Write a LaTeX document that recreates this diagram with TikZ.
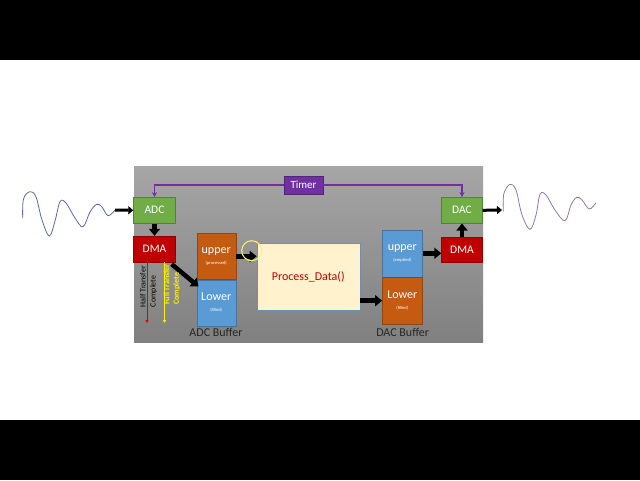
\documentclass[tikz,border=0pt]{standalone}
\usepackage{fontspec}
\setmainfont{Carlito}
\usepackage{xcolor}
\usetikzlibrary{arrows.meta,positioning,calc}

\definecolor{adcgreen}{HTML}{70AD47}
\definecolor{dmared}{HTML}{C00000}
\definecolor{buforange}{HTML}{C55A11}
\definecolor{bufblue}{HTML}{5B9BD5}
\definecolor{timerpurple}{HTML}{7030A0}
\definecolor{procfill}{HTML}{FFF2CC}
\definecolor{wavein}{HTML}{5A6AAA}
\definecolor{waveout}{HTML}{8A7AAE}

\begin{document}
\begin{tikzpicture}[x=1pt,y=-1pt,
		blk/.style = {draw=#1!75!black, fill=#1, text=white, inner sep=0pt, align=center},
		unit/.style = {minimum width=42pt, minimum height=26pt, font=\fontsize{11.5}{13}\selectfont},
		buf/.style = {minimum width=39pt, minimum height=46pt, font=\fontsize{12}{12}\selectfont},
		sub/.style = {font=\fontsize{4.5}{5}\selectfont},
		lbl/.style = {font=\fontsize{12}{14}\selectfont, text=black!85},
		fat/.style = {line width=4.5pt, -{Triangle[length=7pt,width=11pt]}},
		tline/.style = {draw=timerpurple, line width=1.4pt, -{Stealth[length=5pt,width=5pt]}},
		irq/.style = {line width=0.9pt, -{Triangle[length=3pt,width=3pt]}},
		note/.style = {rotate=90, align=left, inner sep=0pt, font=\fontsize{8}{10}\selectfont}
		]
		\useasboundingbox (0,0) rectangle (640,480);
		\fill[black] (0,0) rectangle (640,60);
		\fill[black] (0,420) rectangle (640,480);
		\shade[top color={rgb,255:red,166;green,166;blue,166}, bottom color={rgb,255:red,128;green,128;blue,128}]
		(134,166) rectangle (483,342);
		
		%input side
		\node (adc) [blk=adcgreen,unit] at (154.5,210.3) {ADC};
		\node (dma1) [blk=dmared,unit] at (154.5,249) {DMA};
		\node (timer) [blk=timerpurple,minimum width=39pt,minimum height=18pt,font=\fontsize{11}{13}\selectfont] at (303.5,185) {Timer};
		
		%adc buffer
		\node (adcup) [blk=buforange,buf] at (216.2,256.3) {upper\\[-1pt]{\fontsize{4.5}{5}\selectfont(processed)}};
		\node (adclow) [blk=bufblue,buf,below=0pt of adcup] {Lower\\[-1pt]{\fontsize{4.5}{5}\selectfont(filled)}};
		\node (adclbl) [lbl] at (216,332.5) {ADC Buffer};
		
		\node (proc) [draw=bufblue!60!gray,fill=procfill,minimum width=103pt,minimum height=67pt,
		text=dmared,font=\fontsize{12}{14}\selectfont] at (308.3,277) {Process\_Data()};
		
		%dac buffer
		\node (dacup) [blk=bufblue,buf,minimum width=40pt,minimum height=47pt] at (402.3,253.3) {upper\\[-1pt]{\fontsize{4.5}{5}\selectfont(emptied)}};
		\node (daclow) [blk=buforange,buf,minimum width=40pt,minimum height=47pt,below=0pt of dacup] {Lower\\[-1pt]{\fontsize{4.5}{5}\selectfont(filled)}};
		\node (daclbl) [lbl] at (402.7,332) {DAC Buffer};
		
		%output side
		\node (dma2) [blk=dmared,unit,minimum width=41pt,minimum height=25pt] at (462,250) {DMA};
		\node (dac) [blk=adcgreen,unit,minimum width=41pt] at (462,210.3) {DAC};
		
		\coordinate (winend) at (115,210);
		\coordinate (woutbeg) at (502,210);
		\coordinate (htend) at (147,323);
		\coordinate (ftend) at (164.5,323);
		
		%signals
		\draw[wavein, line width=0.8pt] plot[smooth, tension=0.6] coordinates {(22.7,218) (23.5,199) (30,191.7) (36,197) (42,220) (49.3,236) (55,221) (60,201.7) (66,203) (75,218) (83,226.7) (90,212) (96.7,204.3) (102,207) (108,215.7) (winend)};
		\draw[waveout, line width=0.8pt] plot[smooth, tension=0.6] coordinates {(503.3,211.7) (503.8,194) (510,184.3) (516,190) (522,215) (530,229.3) (536,215) (540,194.3) (546,195) (555,210) (565,220.7) (571,205) (576.7,197.3) (582,200) (589.3,209) (596,202.7)};
		
		\draw[tline] (timer.west) -| (adc.north);
		\draw[tline] (timer.east) -| (dac.north);
		
		\draw[line width=3pt, -{Triangle[length=5pt,width=8pt]}] (winend) -- (adc.west);
		\draw[line width=3pt, -{Triangle[length=5pt,width=8pt]}] (dac.east) -- (woutbeg);
		
		\draw[fat] (adc.south) -- (dma1.north);
		\draw[fat] ($(dma1.south east)+(-4,2)$) -- ($(adclow.north west)+(2,7)$);
		\draw[fat] (adcup.east) -- (adcup.east -| proc.west);
		\draw[fat] (proc.east |- daclow.west) -- (daclow.west);
		\draw[fat] (dacup.east) -- (dacup.east -| dma2.west);
		\draw[fat] (dma2.north) -- (dac.south);
		
		%transfer interrupts
		\draw[irq, red!85!black] (dma1.south -| htend) -- (htend);
		\draw[irq, yellow] (dma1.south -| ftend) -- (ftend);
		\node (half) [note,text=black] at (148.5,286.5) {Half Transfer\\Complete};
		\node (full) [note,text=yellow,font=\fontsize{8}{9.5}\selectfont\bfseries] at (172,284.5) {Full Transfer\\Complete};
		
		%pointer
		\draw[yellow!60!white, line width=1pt] (251.7,250.7) circle (10);
		
\end{tikzpicture}
\end{document}
